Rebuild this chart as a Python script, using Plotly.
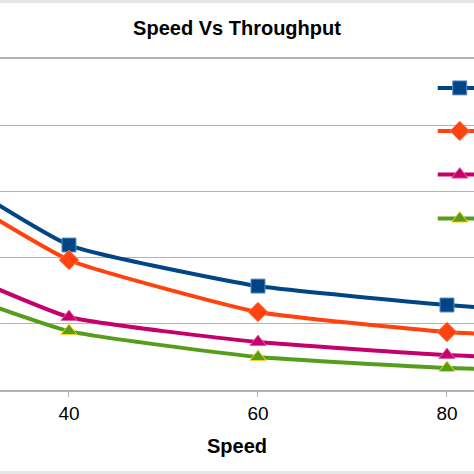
import plotly.graph_objects as go

speed = [20, 40, 60, 80, 100]
throughput_1 = [196, 109.5, 78.5, 64.2, 54.0]
throughput_2 = [183, 98.2, 58.9, 43.8, 38.0]
throughput_3 = [115, 55.1, 36.2, 26.4, 21.5]
throughput_4 = [94, 44.5, 24.9, 16.6, 13.0]
x_ticks = [40, 60, 80]

series = [throughput_1, throughput_2, throughput_3, throughput_4]
colors = ["#004586", "#ff420e", "#c5006b", "#579d1c"]
symbols = ["square", "diamond", "triangle-up", "triangle-up"]
msizes = [14, 15, 14, 14]
mline = ["#5f8fc4", "#ff7a50", "#e0609f", "#ffd320"]
legend_ids = ["legend", "legend2", "legend3", "legend4"]
legend_y = [0.912, 0.782, 0.650, 0.517]

fig = go.Figure()
for i, ys in enumerate(series):
    fig.add_trace(go.Scatter(
        x=speed, y=ys, name="", mode="lines+markers",
        line=dict(color=colors[i], width=4, shape="spline", smoothing=0.4),
        marker=dict(symbol=symbols[i], size=msizes[i], color=colors[i],
                    line=dict(color=mline[i], width=1)),
        legend=legend_ids[i], showlegend=True,
    ))

layout_legends = {}
for i, lid in enumerate(legend_ids):
    layout_legends[lid] = dict(
        x=0.913, xanchor="left", y=legend_y[i], yanchor="middle",
        bgcolor="rgba(0,0,0,0)", itemwidth=44,
        font=dict(family="Liberation Sans, Arial, sans-serif", size=15, color="#000"),
    )

fig.update_layout(
    width=474, height=474, showlegend=True,
    margin=dict(l=0, r=0, t=59, b=84, autoexpand=False),
    paper_bgcolor="white", plot_bgcolor="white",
    font=dict(family="Liberation Sans, Arial, sans-serif", color="#000"),
    title=dict(text="Speed Vs Throughput", x=0.5, xanchor="center",
               y=1 - 28 / 474, yanchor="middle",
               font=dict(size=20, weight="bold", color="#000")),
    xaxis=dict(range=[32.70, 82.86], tickvals=x_ticks, showgrid=False,
               showline=True, mirror=True, linecolor="#b3b3b3", linewidth=1.5,
               ticks="outside", ticklen=5, tickcolor="#b3b3b3",
               tickfont=dict(size=19), zeroline=False,
               title=dict(text="Speed", font=dict(size=20, weight="bold"), standoff=16)),
    yaxis=dict(range=[0, 250], dtick=50, showgrid=True, gridcolor="#b3b3b3",
               gridwidth=1, zeroline=False, showticklabels=False, ticks=""),
    shapes=[
        dict(type="rect", xref="paper", yref="paper", x0=-0.1, x1=1.1,
             y0=(390 - 3) / 331, y1=(390 + 5) / 331, fillcolor="#e6e6e6", line_width=0, layer="above"),
        dict(type="rect", xref="paper", yref="paper", x0=-0.1, x1=1.1,
             y0=(390 - 480) / 331, y1=(390 - 471) / 331, fillcolor="#e6e6e6", line_width=0, layer="above"),
    ],
    **layout_legends,
)

fig.write_html("out.html")
